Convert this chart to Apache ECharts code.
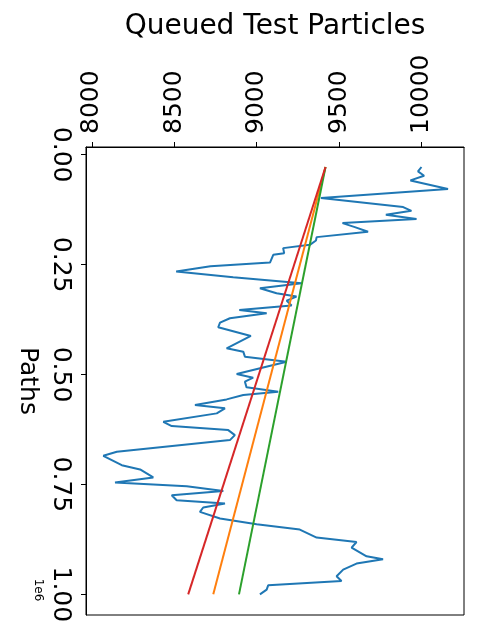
<!DOCTYPE html>
<html>
<head>
<meta charset="utf-8">
<script src="https://cdn.jsdelivr.net/npm/echarts@6/dist/echarts.min.js"></script>
<style>html,body{margin:0;padding:0;background:#fff}#c{width:480px;height:640px}</style>
</head>
<body>
<div id="c"></div>
<script>
// Blue series: queued test particles (x) vs paths (y)
const paths = [28000, 38000, 47800, 58500, 78200, 98700, 119100, 127600, 136700, 146500,
  155600, 164700, 175400, 187500, 195200, 205000, 212500, 224000, 227800, 245300,
  254000, 265500, 278600, 292300, 303600, 315000, 322700, 332000, 343200, 353100,
  360600, 372000, 382000, 392500, 412300, 440300, 448000, 459400, 470800, 498900,
  507200, 516400, 529200, 539200, 546700, 556600, 569500, 577000, 588400, 607500,
  617300, 626400, 637800, 649200, 675800, 684900, 706200, 716000, 734200, 745600,
  754000, 764700, 774500, 785900, 793400, 802500, 812500, 827600, 840500, 852600,
  870800, 880900, 893600, 913400, 920300, 930100, 943800, 959000, 969700, 979500,
  989300, 1000000];
const queued = [10000, 9979, 10016, 9933, 10161, 9390, 9889, 9939, 9784, 9970,
  9521, 9596, 9676, 9364, 9360, 9323, 9161, 9167, 9101, 9081,
  8720, 8512, 8858, 9273, 9020, 9121, 9242, 9182, 9212, 8895,
  9061, 8838, 8778, 8767, 8965, 8818, 8919, 8929, 9182, 8879,
  8979, 8929, 8939, 9131, 8919, 8818, 8626, 8808, 8758, 8434,
  8485, 8828, 8868, 8838, 8152, 8070, 8182, 8293, 8373, 8141,
  8576, 8798, 8485, 8515, 8808, 8676, 8656, 8778, 9000, 9262,
  9364, 9606, 9576, 9667, 9767, 9606, 9525, 9485, 9515, 9070,
  9061, 9020];
// Straight trend lines
const fitPaths = [28000, 1000000];
const fitOrange = [9418, 8737];
const fitGreen = [9418, 8893];
const fitRed = [9418, 8585];
// Tick values
const xTicks = [8000, 8500, 9000, 9500, 10000];
const yTicks = [0, 250000, 500000, 750000, 1000000];

const pairs = (xs, ys) => xs.map((x, i) => [x, ys[i]]);
const FONT = 'DejaVu Sans';

const chart = echarts.init(document.getElementById('c'), null, {renderer: 'canvas'});
const lineSeries = (data, color) => ({
  type: 'line', data: data, showSymbol: false, symbol: 'none',
  lineStyle: {color: color, width: 2}, itemStyle: {color: color},
  animation: false, silent: true
});
chart.setOption({
  animation: false,
  backgroundColor: '#fff',
  grid: {left: 86, right: 16, top: 147, bottom: 25, show: true, borderColor: '#000', borderWidth: 1, backgroundColor: 'transparent'},
  xAxis: {
    type: 'value', position: 'top', min: 7965, max: 10258,
    axisLine: {show: true, onZero: false, lineStyle: {color: '#000', width: 1}},
    axisTick: {show: true, length: 5, inside: false, customValues: xTicks, lineStyle: {color: '#000'}},
    axisLabel: {show: true, rotate: -90, customValues: xTicks, fontSize: 25, fontFamily: FONT, color: '#000', margin: 13,
      formatter: v => String(Math.round(v))},
    splitLine: {show: false}
  },
  yAxis: {
    type: 'value', inverse: true, min: -17500, max: 1047000,
    name: 'Paths', nameLocation: 'middle', nameRotate: -90, nameGap: 46,
    nameTextStyle: {fontSize: 25, fontFamily: FONT, color: '#000'},
    axisLine: {show: true, onZero: false, lineStyle: {color: '#000', width: 1}},
    axisTick: {show: true, length: 5, inside: false, customValues: yTicks, lineStyle: {color: '#000'}},
    axisLabel: {show: true, rotate: -90, customValues: yTicks, fontSize: 25, fontFamily: FONT, color: '#000', margin: 13,
      formatter: v => (v / 1e6).toFixed(2)},
    splitLine: {show: false}
  },
  graphic: [
    {type: 'text', x: 275, y: 27, style: {text: 'Queued Test Particles', fontSize: 28, fontFamily: FONT, fill: '#000', textAlign: 'center', textVerticalAlign: 'middle'}},
    {type: 'text', x: 38, y: 590, rotation: -Math.PI / 2, style: {text: '1e6', fontSize: 12, fontFamily: FONT, fill: '#000', textAlign: 'center', textVerticalAlign: 'middle'}}
  ],
  series: [
    lineSeries(pairs(queued, paths), '#1f77b4'),
    lineSeries(pairs(fitOrange, fitPaths), '#ff7f0e'),
    lineSeries(pairs(fitGreen, fitPaths), '#2ca02c'),
    lineSeries(pairs(fitRed, fitPaths), '#d62728')
  ]
});
</script>
</body>
</html>
